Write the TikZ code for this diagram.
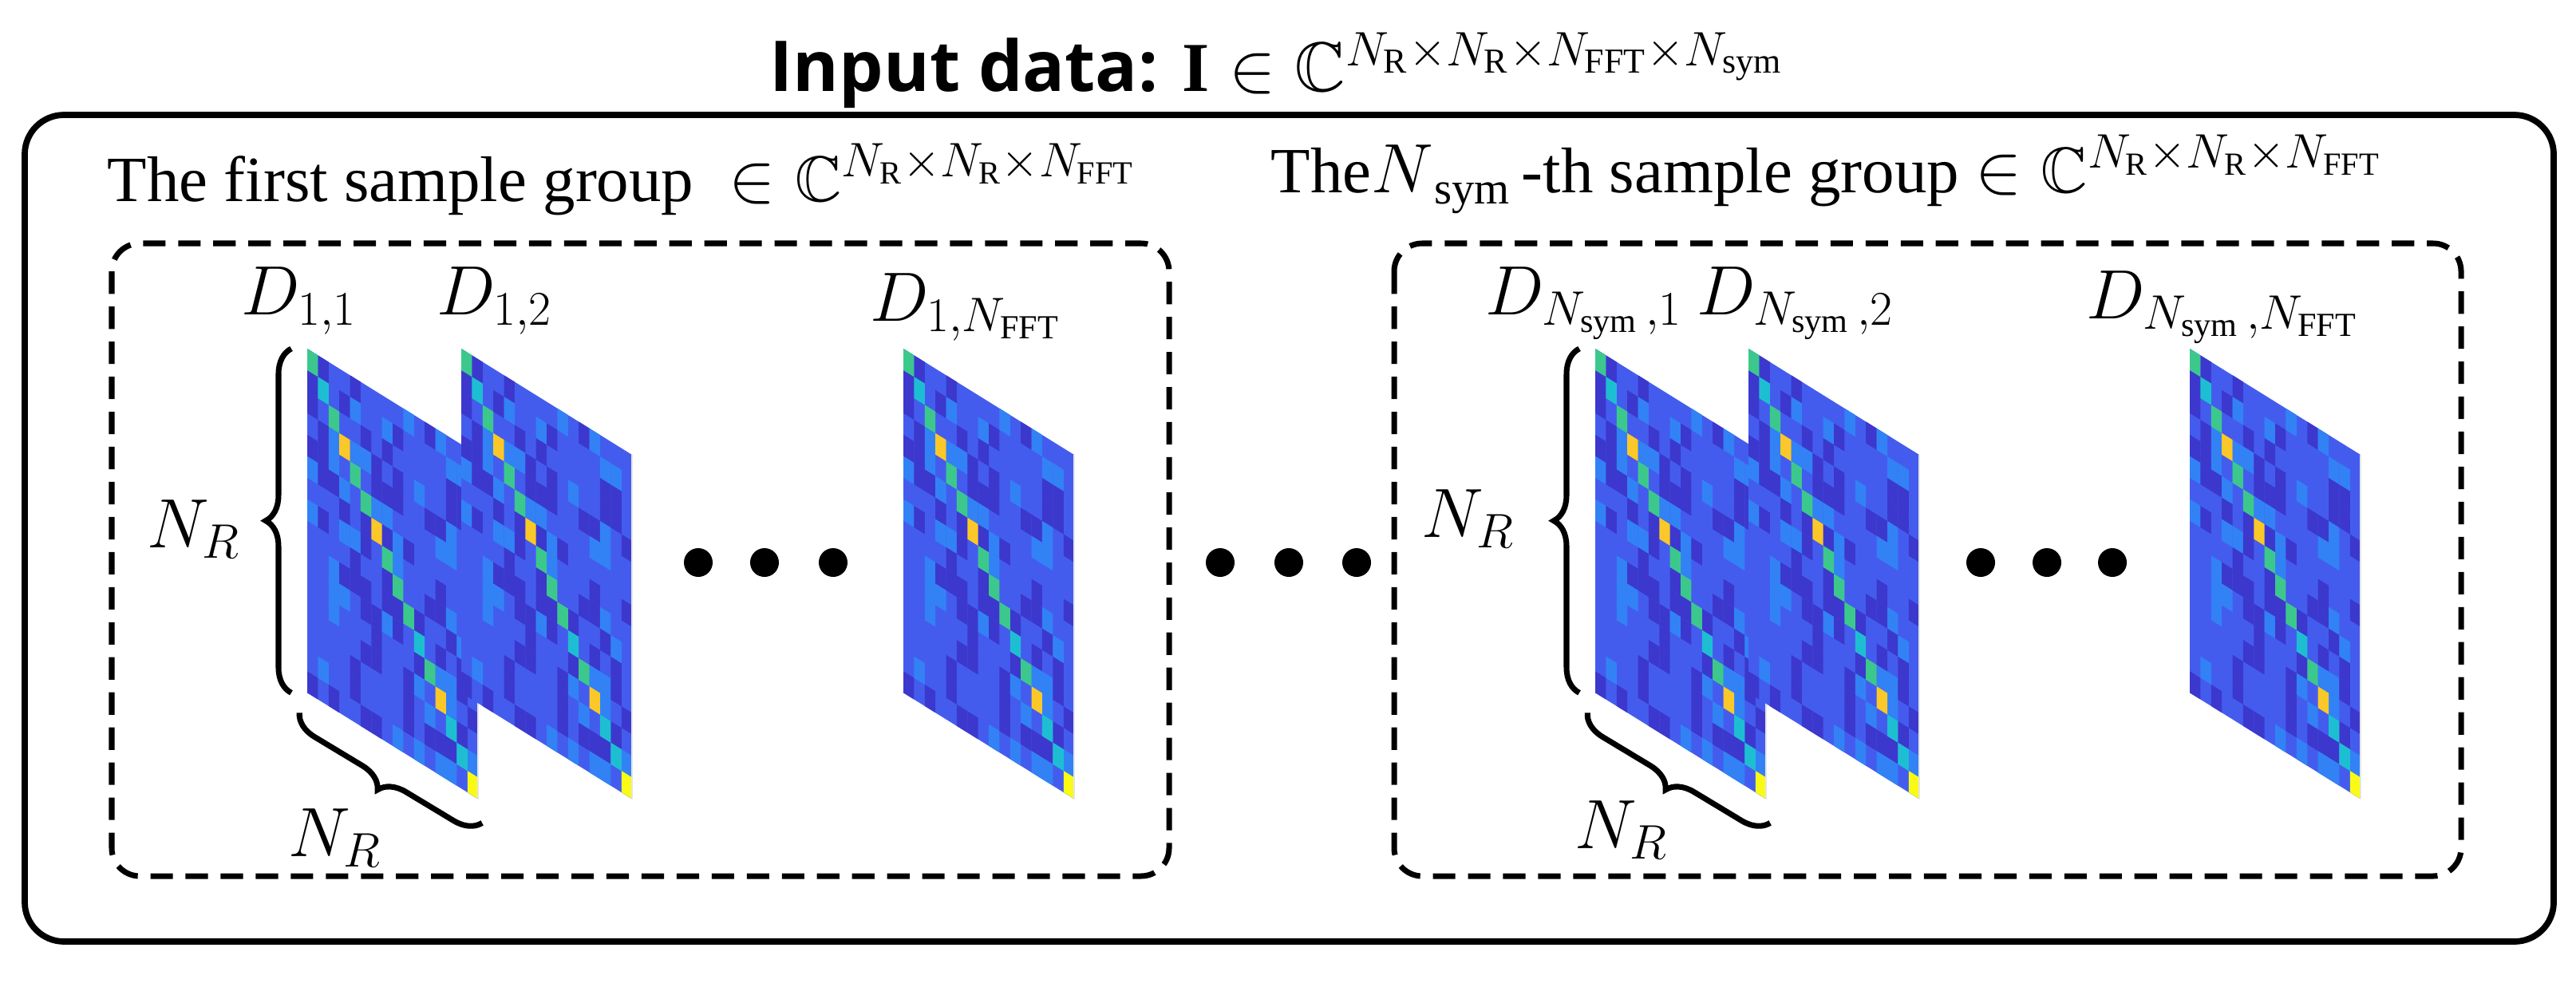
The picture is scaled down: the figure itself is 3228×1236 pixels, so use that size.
\documentclass[tikz,border=0pt]{standalone}
\usepackage{amssymb}
\usepackage{fontspec}
\setmainfont{Liberation Serif}
\newfontfamily\titlefont{Open Sans}
\usetikzlibrary{decorations.pathreplacing}
\definecolor{mbase}{RGB}{68,92,238}
\definecolor{mdark}{RGB}{60,56,205}
\definecolor{mlight}{RGB}{50,130,245}
\definecolor{mcyan}{RGB}{30,190,210}
\definecolor{mgreen}{RGB}{60,200,140}
\definecolor{myel}{RGB}{250,200,40}
\definecolor{mbright}{RGB}{250,250,20}
\tikzset{
  outerbox/.style={draw, line width=2.2pt, rounded corners=14pt},
  groupbox/.style={draw, line width=2pt, dash pattern=on 8pt off 4.5pt, rounded corners=10pt},
  lbl/.style={font=\fontsize{24}{28}\selectfont, inner sep=0pt},
  gtitle/.style={font=\fontsize{23}{27}\selectfont, anchor=west, inner sep=0pt},
  bigdot/.style={fill=black, circle, minimum size=0.36cm, inner sep=0pt},
  bracestyle/.style={decorate, decoration={brace, amplitude=0.32cm}, line width=2pt},
}
\newcommand\cell[3]{\fill[#3] (#1/16,#2/16) -- ++(1/16,0) -- ++(0,1/16) -- ++(-1/16,0) -- cycle;}
\newcommand\heatmat[3]{% #1 name, #2 x, #3 y (top-left corner)
  \begin{scope}[shift={(#2,#3)}, x={(2.14cm,-1.33cm)}, y={(0cm,-4.31cm)}]
    \pgfmathsetseed{7}
    \fill[mbase] (0,0) coordinate (#1-tl) -- (1,0) coordinate (#1-tr) -- (1,1) coordinate (#1-br) -- (0,1) coordinate (#1-bl) -- cycle;
    \foreach \i in {0,...,15}{
      \foreach \j in {0,...,15}{
        \pgfmathsetmacro\r{rnd}
        \ifdim\r pt<0.25pt
          \cell{\i}{\j}{mdark}
        \else\ifdim\r pt>0.82pt
          \cell{\i}{\j}{mlight}
        \fi\fi
      }
    }
    \foreach \k/\c in {0/mgreen,1/mcyan,2/mgreen,3/myel,4/mgreen,5/mgreen,6/myel,7/mgreen,8/mgreen,9/mgreen,10/mcyan,11/mgreen,12/myel,13/mcyan,14/mcyan,15/mbright}{
      \cell{\k}{\k}{\c}
    }
    \draw[white!80!gray, line width=0.6pt] (1,0) -- (1,1);
  \end{scope}
}
\begin{document}
\begin{tikzpicture}[x=0.01cm, y=-0.01cm]
\useasboundingbox (0,0) rectangle (3228,1236);
\node[font=\titlefont\bfseries\fontsize{25}{30}\selectfont] (title) at (1600,88)
  {Input data: $\mathbf{I}\in\mathbb{C}^{N_{\mathrm{R}}\times N_{\mathrm{R}}\times N_{\mathrm{FFT}}\times N_{\mathrm{sym}}}$};
\draw[outerbox] (31,144) rectangle (3200,1180);
\node[gtitle] (g1) at (134,225) {The first sample group $\;\in\mathbb{C}^{N_{\mathrm{R}}\times N_{\mathrm{R}}\times N_{\mathrm{FFT}}}$};
\node[gtitle] (g2) at (1592,218) {The$N_{\,\mathrm{sym}}$\,-th sample group $\in\mathbb{C}^{N_{\mathrm{R}}\times N_{\mathrm{R}}\times N_{\mathrm{FFT}}}$};
\draw[groupbox] (140,305) rectangle (1465,1098);
\draw[groupbox] (1747,305) rectangle (3084,1098);
% left group
\heatmat{m1}{385}{437}
\heatmat{m2}{578}{437}
\heatmat{m3}{1132}{437}
\node[lbl] (d11) at (375,377) {$D_{1,1}$};
\node[lbl] (d12) at (620,377) {$D_{1,2}$};
\node[lbl] (d1n) at (1210,385) {$D_{1,N_{\mathrm{FFT}}}$};
\draw[bracestyle] ([xshift=-0.2cm]m1-bl) -- ([xshift=-0.2cm]m1-tl);
\node[lbl] (nr1) at (243,663) {$N_R$};
\draw[bracestyle] ([shift={(0.05cm,-0.3cm)}]m1-br) -- ([shift={(-0.1cm,-0.25cm)}]m1-bl);
\node[lbl] (nr2) at (420,1050) {$N_R$};
\node[bigdot] (a1) at (875,705) {};
\node[bigdot] (a2) at (958,705) {};
\node[bigdot] (a3) at (1044,705) {};
% middle dots
\node[bigdot] (c1) at (1529,705) {};
\node[bigdot] (c2) at (1615,705) {};
\node[bigdot] (c3) at (1700,705) {};
% right group
\heatmat{m4}{1999}{437}
\heatmat{m5}{2191}{437}
\heatmat{m6}{2744}{437}
\node[lbl] (d21) at (1985,380) {$D_{N_{\mathrm{sym}}\,,1}$};
\node[lbl] (d22) at (2250,380) {$D_{N_{\mathrm{sym}}\,,2}$};
\node[lbl] (d2n) at (2785,385) {$D_{N_{\mathrm{sym}}\,,N_{\mathrm{FFT}}}$};
\draw[bracestyle] ([xshift=-0.2cm]m4-bl) -- ([xshift=-0.2cm]m4-tl);
\node[lbl] (nr3) at (1840,650) {$N_R$};
\draw[bracestyle] ([shift={(0.05cm,-0.3cm)}]m4-br) -- ([shift={(-0.1cm,-0.25cm)}]m4-bl);
\node[lbl] (nr4) at (2032,1040) {$N_R$};
\node[bigdot] (e1) at (2482,705) {};
\node[bigdot] (e2) at (2565,705) {};
\node[bigdot] (e3) at (2647,705) {};
\end{tikzpicture}
\end{document}
